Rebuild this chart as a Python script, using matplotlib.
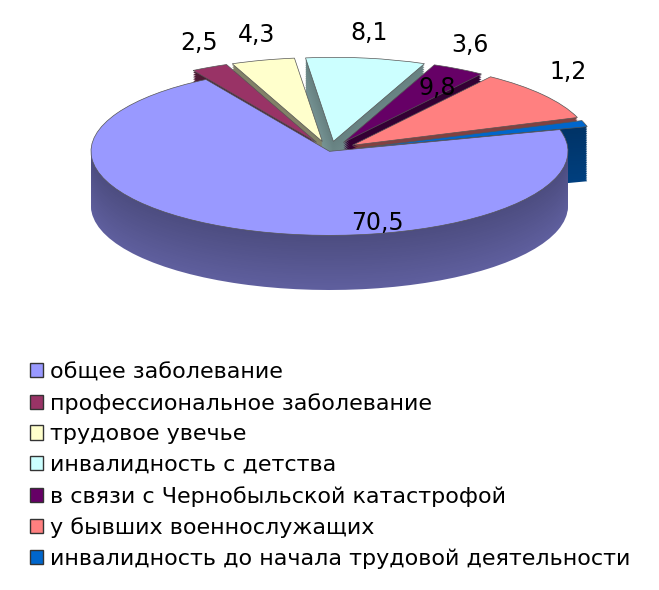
import matplotlib
matplotlib.use("Agg")
import matplotlib.pyplot as plt
import matplotlib.colors as mc
import numpy as np
from matplotlib.patches import Patch

labels = ["общее заболевание", "профессиональное заболевание", "трудовое увечье",
          "инвалидность с детства", "в связи с Чернобыльской катастрофой",
          "у бывших военнослужащих", "инвалидность до начала трудовой деятельности"]
values = [70.5, 2.5, 4.3, 8.1, 3.6, 9.8, 1.2]
texts = ["70,5", "2,5", "4,3", "8,1", "3,6", "9,8", "1,2"]
colors = ["#9999ff", "#993366", "#ffffcc", "#ccffff", "#660066", "#ff8080", "#0066cc"]

order = [6, 5, 4, 3, 2, 1, 0]
vals = [values[i] for i in order]
cols = [colors[i] for i in order]
explode = [0.12, 0.12, 0.12, 0.12, 0.12, 0.12, 0.0]

fig = plt.figure(figsize=(6.59, 5.90), dpi=100)
ax = fig.add_axes([0.12, 0.48, 0.76, 0.47])
XL, YL = (-1.05, 1.05), (-1.85, 1.45)
start = 15
depth = 0.65
n = 30
for k in range(n, 0, -1):
    dy = -depth * k / n
    dark = [tuple(np.array(mc.to_rgb(c)) * (0.5 + 0.12 * k / n)) for c in cols]
    ax.pie(vals, colors=dark, explode=explode, startangle=start, counterclock=True,
           center=(0, dy), radius=1, frame=True, wedgeprops=dict(linewidth=0))
ax.pie(vals, colors=cols, explode=explode, startangle=start, counterclock=True,
       center=(0, 0), radius=1, frame=True, wedgeprops=dict(edgecolor="#555555", linewidth=0.5))
ax.set_xlim(*XL)
ax.set_ylim(*YL)
ax.set_aspect("auto")
ax.axis("off")

ang = start
for v, i in zip(vals, order):
    mid = np.deg2rad(ang + v * 3.6 / 2)
    if i == 0:
        x, y = 0.2, -0.85
    elif i in (5,):
        x, y = 0.45, 0.75
    elif i == 6:
        x, y = 1.0, 0.95
    else:
        x, y = 1.22 * np.cos(mid), 1.22 * np.sin(mid) + 0.2
    ax.text(x, y, texts[i], fontsize=17, ha="center", va="center")
    ang += v * 3.6

handles = [Patch(facecolor=c, edgecolor="#333333") for c in colors]
fig.legend(handles, labels, loc="upper left", bbox_to_anchor=(0.015, 0.42), frameon=False,
           fontsize=16, handlelength=0.6, handleheight=0.6, handletextpad=0.3,
           labelspacing=0.48)
fig.savefig("out.png", dpi=100)
